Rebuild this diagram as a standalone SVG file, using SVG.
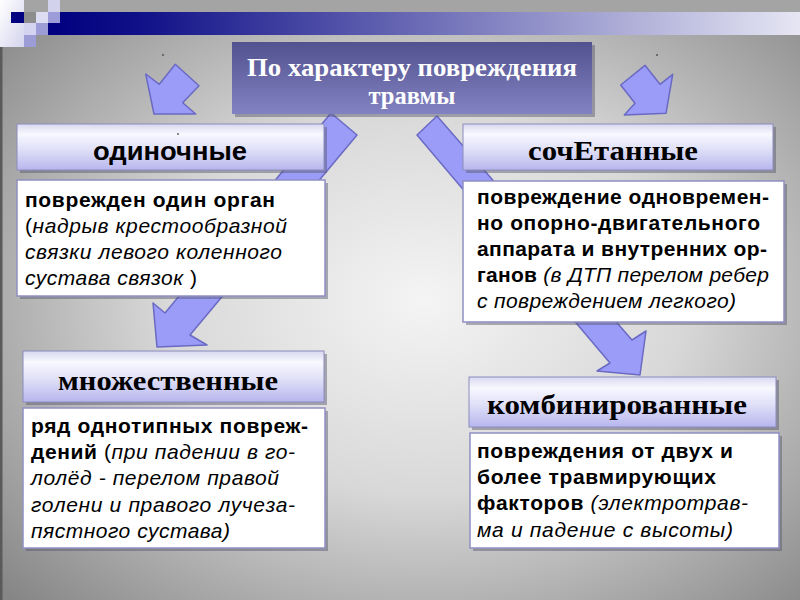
<svg xmlns="http://www.w3.org/2000/svg" width="800" height="600" viewBox="0 0 800 600">
<defs>
<radialGradient id="bg" cx="0.53" cy="0.5" r="0.72">
<stop offset="0" stop-color="#f4f4f4"/>
<stop offset="0.45" stop-color="#d8d8d8"/>
<stop offset="1" stop-color="#858585"/>
</radialGradient>
<linearGradient id="bar" x1="0" y1="0" x2="1" y2="0">
<stop offset="0" stop-color="#000080"/>
<stop offset="0.12" stop-color="#101088"/>
<stop offset="1" stop-color="#e6e6f4"/>
</linearGradient>
<linearGradient id="corner" x1="0" y1="0" x2="1" y2="1">
<stop offset="0" stop-color="#ffffff"/>
<stop offset="1" stop-color="#d4d4ee"/>
</linearGradient>
<linearGradient id="title" x1="0" y1="0" x2="0" y2="1">
<stop offset="0" stop-color="#52528f"/>
<stop offset="1" stop-color="#8282c2"/>
</linearGradient>
<linearGradient id="head" x1="0" y1="0" x2="0" y2="1">
<stop offset="0" stop-color="#d8d8f0"/>
<stop offset="0.22" stop-color="#f8f8ff"/>
<stop offset="0.55" stop-color="#e0e0f8"/>
<stop offset="1" stop-color="#b6b6ee"/>
</linearGradient>
<style>
.shadow{fill:#55556a;opacity:0.45}
.head{fill:url(#head);stroke:#8c8cbc;stroke-width:1}
.body{fill:#ffffff;stroke:#9090c4;stroke-width:1.5}
.arrow{fill:#9b9bf8;stroke:#6a6ac4;stroke-width:1.5;stroke-linejoin:round}
.htxt{font-family:"Liberation Serif","Times New Roman",serif;font-weight:bold;font-size:28px;fill:#000;text-anchor:middle}
.hsans{font-family:"Liberation Sans",Arial,sans-serif;font-weight:bold;font-size:26px;fill:#000;text-anchor:middle}
.t{font-family:"Liberation Sans",Arial,sans-serif;font-size:21px;fill:#000}
.b{font-weight:bold}
.i{font-style:italic}
.ttl{font-family:"Liberation Serif","Times New Roman",serif;font-weight:bold;font-size:26px;fill:#ffffff;text-anchor:middle}
.dot{fill:#555}
</style>
</defs>

<rect x="0" y="0" width="800" height="600" fill="url(#bg)"/>
<rect x="0" y="0" width="800" height="12" fill="#a4a4a4"/>
<rect x="0" y="47" width="2.5" height="553" fill="#5a5a5a"/>

<g id="decor">
<rect x="48" y="12" width="752" height="23" fill="url(#bar)"/>
<rect x="0" y="0" width="24" height="47" fill="url(#corner)"/>
<rect x="11" y="12" width="13" height="11" fill="#000080"/>
<rect x="48" y="0" width="12" height="12" fill="#d2d2ec"/>
<rect x="36" y="12" width="12" height="11" fill="#dcdcf2"/>
<rect x="48" y="12" width="12" height="11" fill="#9c9cd8"/>
<rect x="24" y="23" width="12" height="12" fill="#d4d4f0"/>
<rect x="36" y="23" width="12" height="12" fill="#9c9cd6"/>
<rect x="24" y="35" width="12" height="12" fill="#9c9cd6"/>
</g>

<g id="connectors">
<polygon class="arrow" points="145.7,74 159.3,84.3 175.3,64.3 199,85.7 182.7,102.7 195.7,114 154,114"/>
<polygon class="arrow" points="620.7,85 645,65.3 660,84.3 672.7,74.3 666,113.3 624.3,115 635,103.3"/>
<polygon class="arrow" points="331,113 357,135 190,335 207,345 157,347 153,303 165,313"/>
<polygon class="arrow" points="437,116 632,340 646,331 640,375 597,371 610,363 417,135"/>
</g>

<circle class="dot" cx="163" cy="55" r="1"/>
<circle class="dot" cx="657" cy="55" r="1"/>

<g id="title-node">
<rect class="shadow" x="235" y="45" width="360" height="72"/>
<rect x="232" y="42" width="360" height="72" fill="url(#title)"/>
<text class="ttl" x="412" y="76" textLength="330" lengthAdjust="spacingAndGlyphs">По характеру повреждения</text>
<text class="ttl" x="412" y="104" textLength="87" lengthAdjust="spacingAndGlyphs">травмы</text>
</g>

<g id="single-head">
<rect class="shadow" x="20" y="127" width="307" height="46"/>
<rect class="head" x="17" y="124" width="307" height="46"/>
<circle class="dot" cx="178" cy="134" r="0.9"/>
<text class="hsans" x="170" y="160" textLength="154" lengthAdjust="spacingAndGlyphs">одиночные</text>
</g>

<g id="single-body">
<rect class="shadow" x="20" y="183" width="308" height="116"/>
<rect class="body" x="17" y="180" width="308" height="116"/>
<text class="t" x="25" y="207" textLength="250"><tspan class="b">поврежден один орган</tspan></text>
<text class="t" x="25" y="233" textLength="262">(<tspan class="i">надрыв крестообразной</tspan></text>
<text class="t i" x="25" y="259" textLength="257">связки левого коленного</text>
<text class="t" x="25" y="285" textLength="172"><tspan class="i">сустава связок</tspan> )</text>
</g>

<g id="combined-head">
<rect class="shadow" x="466" y="127" width="310" height="46"/>
<rect class="head" x="463" y="124" width="310" height="46"/>
<text class="htxt" x="613" y="160" textLength="170" lengthAdjust="spacingAndGlyphs">сочЕтанные</text>
</g>

<g id="combined-body">
<rect class="shadow" x="466" y="184" width="321" height="141"/>
<rect class="body" x="463" y="181" width="321" height="141"/>
<text class="t b" x="477" y="204" textLength="292">повреждение одновремен-</text>
<text class="t b" x="477" y="230" textLength="283">но опорно-двигательного</text>
<text class="t b" x="477" y="256" textLength="290">аппарата и внутренних ор-</text>
<text class="t" x="477" y="282" textLength="292"><tspan class="b">ганов</tspan><tspan class="i"> (в ДТП перелом ребер</tspan></text>
<text class="t i" x="477" y="308" textLength="259">с повреждением легкого)</text>
</g>

<g id="multiple-head">
<rect class="shadow" x="26" y="354" width="301" height="51"/>
<rect class="head" x="23" y="351" width="301" height="51"/>
<text class="htxt" x="168" y="390" textLength="220" lengthAdjust="spacingAndGlyphs">множественные</text>
</g>

<g id="multiple-body">
<rect class="shadow" x="26" y="411" width="302" height="140"/>
<rect class="body" x="23" y="408" width="302" height="140"/>
<text class="t b" x="31" y="433" textLength="277">ряд однотипных повреж-</text>
<text class="t" x="31" y="459" textLength="264"><tspan class="b">дений</tspan> (<tspan class="i">при падении в го-</tspan></text>
<text class="t i" x="31" y="485" textLength="248">лолёд - перелом правой</text>
<text class="t i" x="31" y="512" textLength="264">голени и правого лучеза-</text>
<text class="t i" x="31" y="538" textLength="199">пястного сустава)</text>
</g>

<g id="mixed-head">
<rect class="shadow" x="472" y="380" width="307" height="50"/>
<rect class="head" x="469" y="377" width="307" height="50"/>
<text class="htxt" x="617" y="414" textLength="260" lengthAdjust="spacingAndGlyphs">комбинированные</text>
</g>

<g id="mixed-body">
<rect class="shadow" x="473" y="436" width="309" height="115"/>
<rect class="body" x="470" y="433" width="309" height="115"/>
<text class="t b" x="477" y="458" textLength="256">повреждения от двух и</text>
<text class="t b" x="477" y="484" textLength="239">более травмирующих</text>
<text class="t" x="477" y="510" textLength="271"><tspan class="b">факторов</tspan><tspan class="i"> (электротрав-</tspan></text>
<text class="t i" x="477" y="537" textLength="256">ма и падение с высоты)</text>
</g>
</svg>
